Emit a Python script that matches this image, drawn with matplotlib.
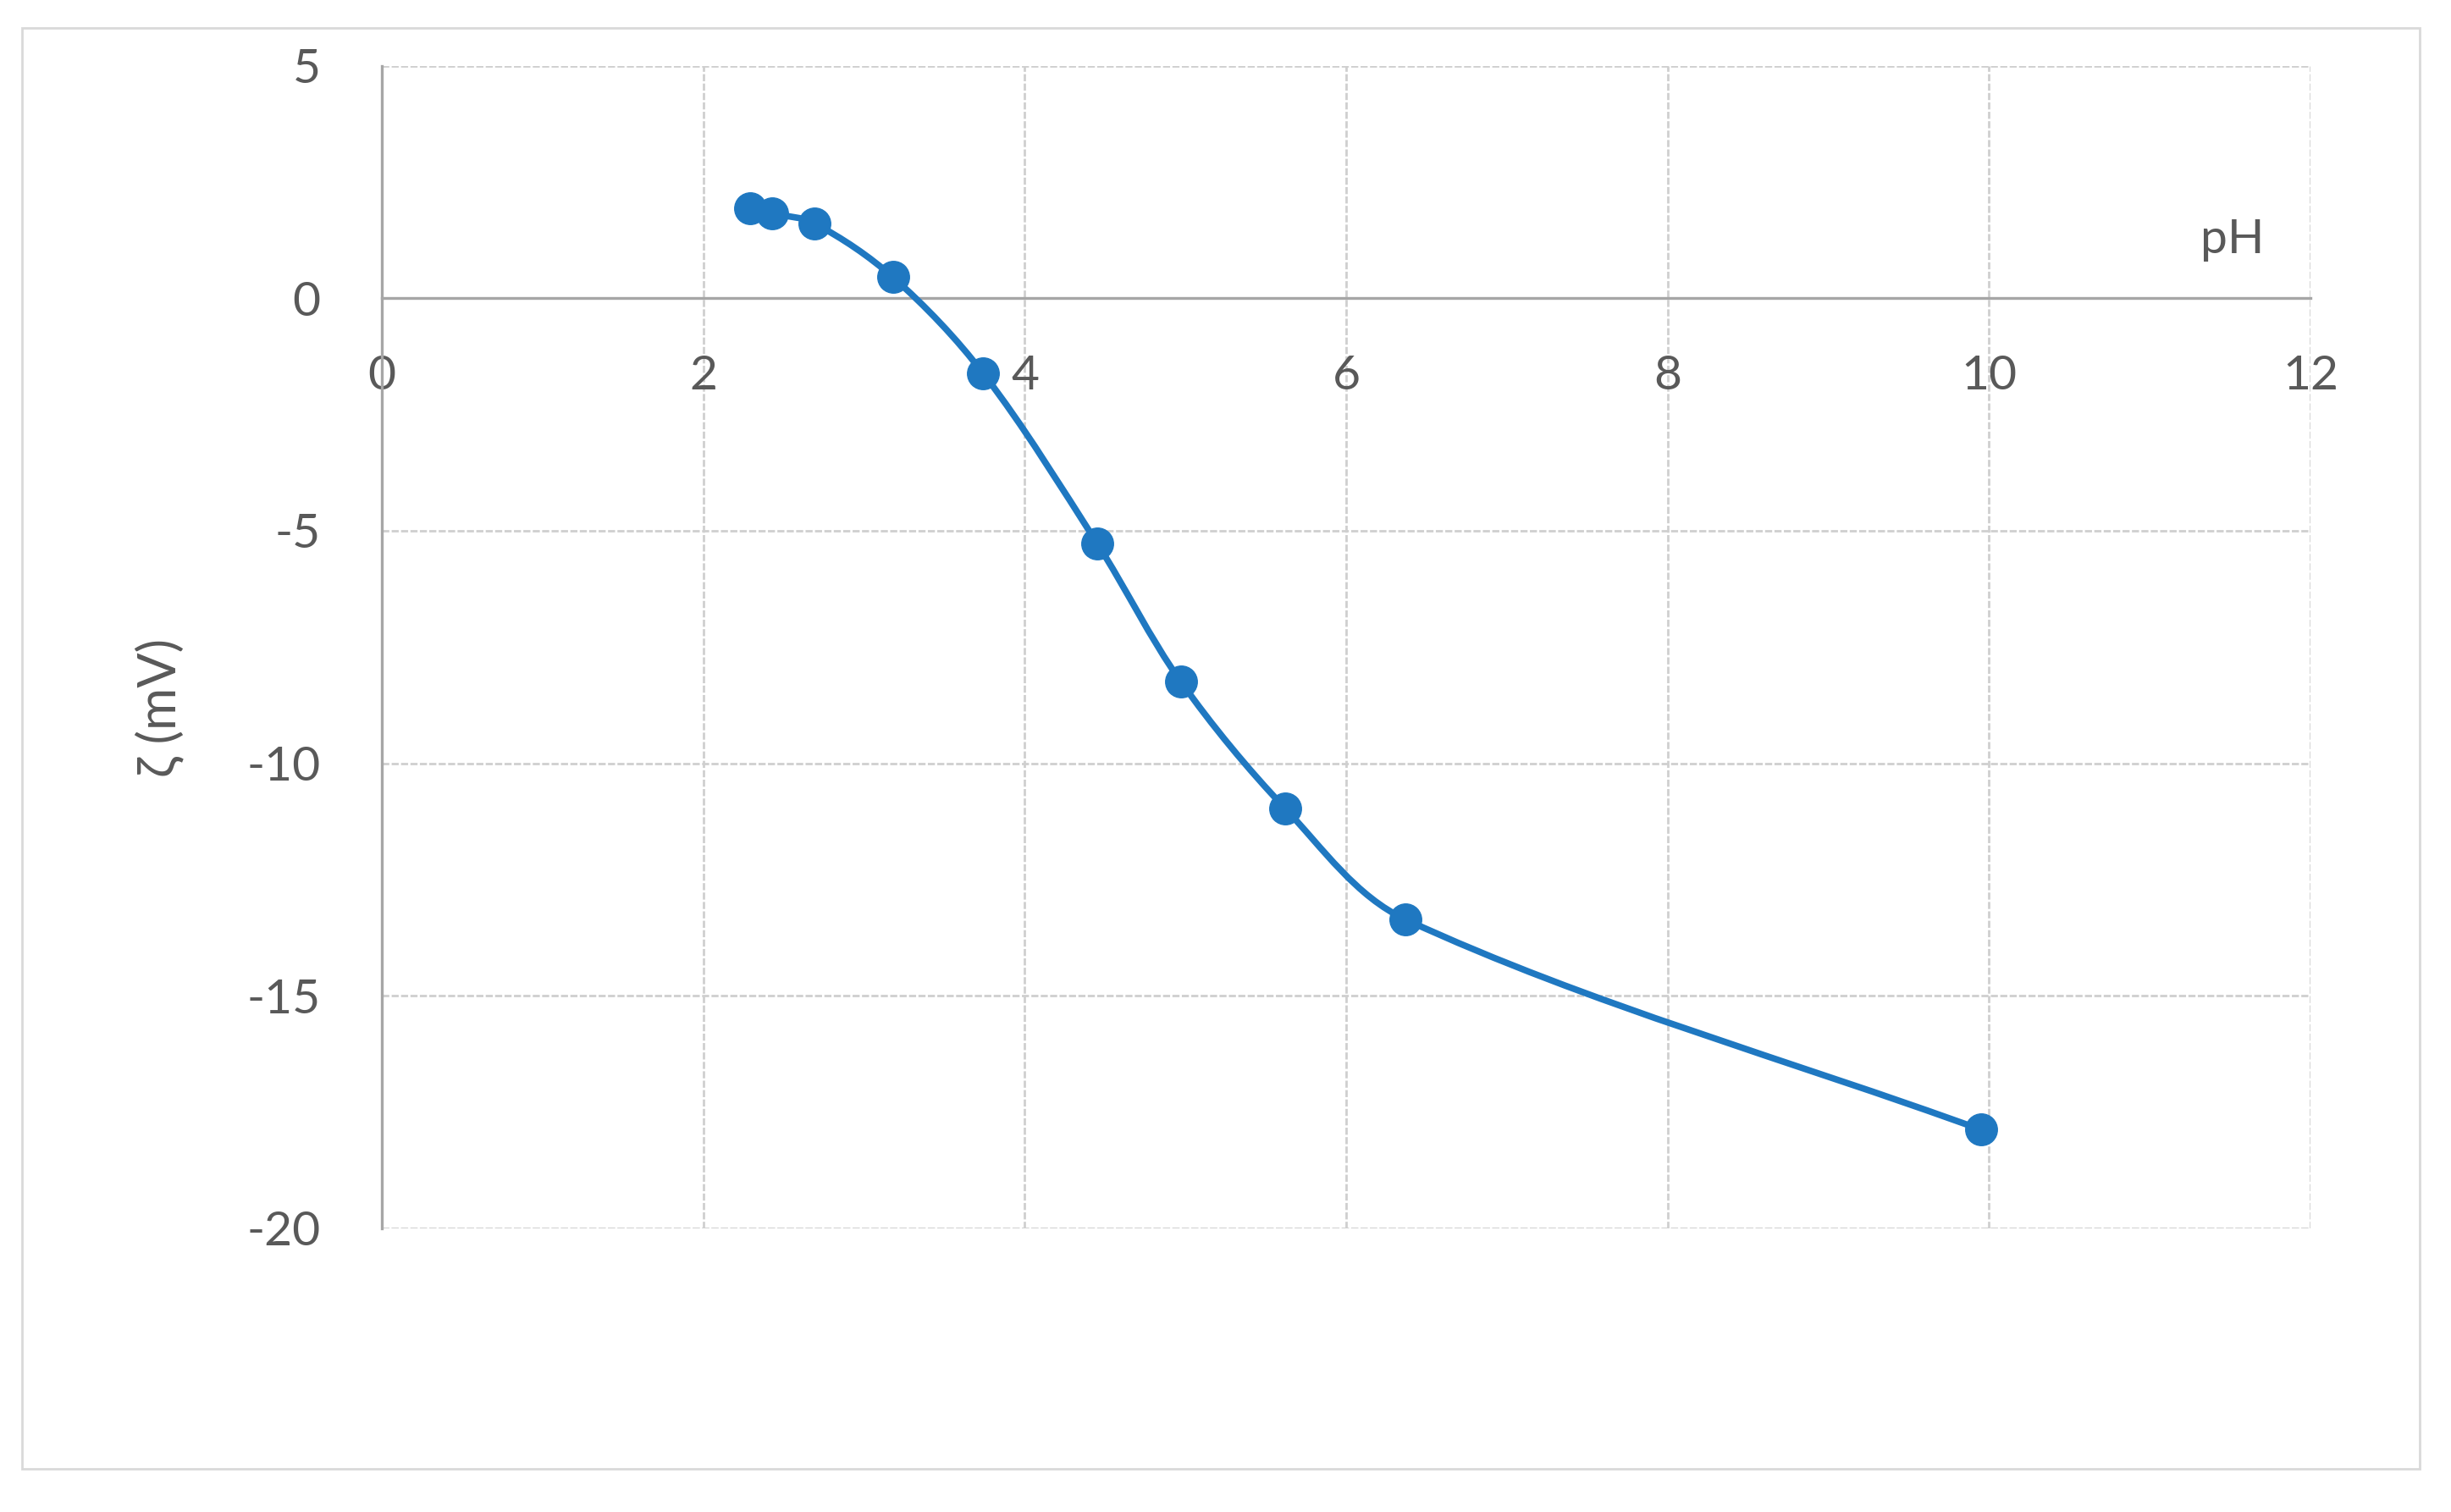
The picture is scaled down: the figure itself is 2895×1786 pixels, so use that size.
import matplotlib
matplotlib.use("Agg")
import matplotlib.pyplot as plt
import numpy as np
from matplotlib.path import Path
from matplotlib.patches import PathPatch, Rectangle

plt.rcParams["axes.unicode_minus"] = False

# zeta potential vs pH
ph = [2.29, 2.43, 2.69, 3.18, 3.74, 4.45, 4.97, 5.62, 6.37, 9.95]
zeta = [1.93, 1.82, 1.61, 0.45, -1.61, -5.27, -8.24, -10.97, -13.36, -17.88]

x_ticks = [0, 2, 4, 6, 8, 10, 12]
y_ticks = [5, 0, -5, -10, -15, -20]

blue = "#1f78c1"
grid_gray = "#cfcfcf"
axis_gray = "#a6a6a6"
text_gray = "#595959"
font = ["Lato", "DejaVu Sans"]


def smooth_path(xs, ys, sx=190.0, sy=55.0):
    # smoothed line through each point, tangents worked out in screen-like units
    pts = np.column_stack([np.asarray(xs) * sx, np.asarray(ys) * sy])
    n = len(pts)
    tang = []
    for i in range(n):
        a = pts[max(i - 1, 0)]
        b = pts[min(i + 1, n - 1)]
        d = b - a
        tang.append(d / np.linalg.norm(d))
    verts = [pts[0]]
    codes = [Path.MOVETO]
    for i in range(n - 1):
        seg = np.linalg.norm(pts[i + 1] - pts[i]) / 3.0
        c1 = pts[i] + tang[i] * seg
        c2 = pts[i + 1] - tang[i + 1] * seg
        verts += [c1, c2, pts[i + 1]]
        codes += [Path.CURVE4] * 3
    verts = np.array(verts) / np.array([sx, sy])
    return Path(verts, codes)


fig = plt.figure(figsize=(28.95, 17.86), dpi=100)
ax = fig.add_axes([0.1558, 0.1876, 0.9427 - 0.1558, 0.9566 - 0.1876])

fig.patches.append(Rectangle((0.009, 0.0286), 0.9782, 0.9529,
                             transform=fig.transFigure, fill=False,
                             edgecolor="#d9d9d9", linewidth=2))

ax.set_xlim(0, 12)
ax.set_ylim(-20, 5)
ax.set_xticks(x_ticks)
ax.set_yticks(y_ticks)

ax.grid(True, color=grid_gray, linewidth=2.0, linestyle=(0, (3, 1)))
ax.set_axisbelow(True)

for side in ["top", "right"]:
    ax.spines[side].set_visible(False)
ax.spines["bottom"].set_position(("data", 0))
ax.spines["bottom"].set_color(axis_gray)
ax.spines["bottom"].set_linewidth(2.4)
ax.spines["left"].set_color(axis_gray)
ax.spines["left"].set_linewidth(2.4)

# bottom grid border at -20
ax.axhline(-20, color=grid_gray, linewidth=2.0, linestyle=(0, (3, 1)), zorder=0)

ax.tick_params(axis="x", length=0, pad=48, labelsize=41, labelcolor=text_gray)
ax.tick_params(axis="y", length=0, pad=52, labelsize=41, labelcolor=text_gray)
for lab in ax.get_xticklabels() + ax.get_yticklabels():
    lab.set_family(font)

ax.add_patch(PathPatch(smooth_path(ph, zeta), facecolor="none",
                       edgecolor=blue, linewidth=5.5, zorder=3))
ax.plot(ph, zeta, linestyle="none", marker="o", markersize=27,
        color=blue, zorder=4)

ax.text(11.71, 1.25, "pH", ha="right", va="center", fontsize=41,
        color=text_gray, family=font)

ax.set_ylabel("ζ (mV)", fontsize=44, color=text_gray, family=font)
ax.yaxis.set_label_coords(-0.102, 0.448)

fig.savefig("out.png", dpi=100)
